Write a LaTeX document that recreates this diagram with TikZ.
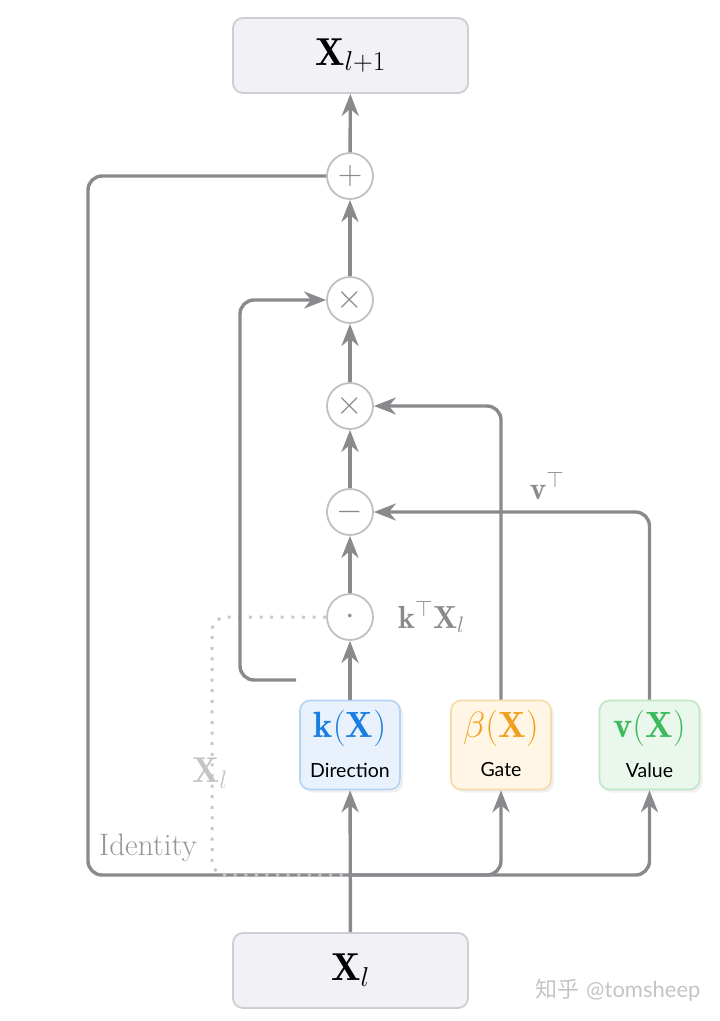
\RequirePackage{fix-cm}
\documentclass[tikz,border=0pt]{standalone}
\usepackage{amsmath}
\usepackage{fontspec}
\newfontfamily\lato{Lato}
\newfontfamily\cjk{Noto Sans CJK SC}
\usetikzlibrary{arrows.meta,shadows}
\definecolor{lgray}{RGB}{138,138,142}
\definecolor{cgray}{RGB}{192,192,196}
\definecolor{boxfill}{RGB}{241,241,246}
\definecolor{boxdraw}{RGB}{206,206,212}
\definecolor{kblue}{RGB}{26,125,225}
\definecolor{kfill}{RGB}{232,241,252}
\definecolor{kdraw}{RGB}{180,210,245}
\definecolor{borange}{RGB}{240,160,30}
\definecolor{bfill}{RGB}{255,246,230}
\definecolor{bdraw}{RGB}{248,218,170}
\definecolor{vgreen}{RGB}{60,185,90}
\definecolor{vfill}{RGB}{234,247,236}
\definecolor{vdraw}{RGB}{192,230,198}
\definecolor{dotgray}{RGB}{200,200,204}
\definecolor{lblgray}{RGB}{150,150,154}
\definecolor{xlgray}{RGB}{196,196,200}
\tikzset{
  bigbox/.style={draw=boxdraw, line width=1.8pt, fill=boxfill, rounded corners=10pt,
    minimum width=235pt, minimum height=75pt, font=\fontsize{39}{44}\selectfont},
  fbox/.style={line width=1.6pt, rounded corners=10pt, minimum width=100pt, minimum height=89pt,
    inner sep=0pt,
    drop shadow={opacity=0.12, shadow xshift=3pt, shadow yshift=-3pt}},
  mathlbl/.style={font=\fontsize{36.5}{40}\selectfont, inner sep=0pt},
  namelbl/.style={font=\lato\fontsize{19.5}{23}\selectfont, inner sep=0pt, text=black},
  opnode/.style={circle, draw=cgray, line width=1.8pt, fill=white, minimum size=46pt, inner sep=0pt,
    text=lgray, font=\fontsize{34}{38}\selectfont},
  conn/.style={draw=lgray, line width=3.4pt},
  arr/.style={conn, -{Stealth[length=22pt, width=17pt, inset=7pt]}},
  dotline/.style={draw=dotgray, line width=3pt, dash pattern=on 3pt off 7.6pt},
  lbl/.style={text=lgray, font=\fontsize{32}{36}\selectfont},
}
\begin{document}
\begin{tikzpicture}[x=1pt, y=-1pt]
\useasboundingbox (0,0) rectangle (720,1021);
% main nodes
\node[bigbox] (out) at (350.5,55.5) {$\mathbf{X}_{l+1}$};
\node[bigbox] (in) at (350.5,970.5) {$\mathbf{X}_{l}$};
\node[opnode] (add) at (350,176) {$+$};
\node[opnode] (mulA) at (350,300) {$\times$};
\node[opnode] (mulB) at (350,406) {$\times$};
\node[opnode] (sub) at (350,512) {$-$};
\node[opnode] (dot) at (350,617) {$\cdot$};
\node[fbox, draw=kdraw, fill=kfill] (k) at (350,745) {};
\node[fbox, draw=bdraw, fill=bfill] (beta) at (501,745) {};
\node[fbox, draw=vdraw, fill=vfill] (v) at (649.5,745) {};
\node[mathlbl, text=kblue] (kt) at (350,728) {$\mathbf{k}(\mathbf{X})$};
\node[namelbl] (kn) at (350,770) {Direction};
\node[mathlbl, text=borange] (bt) at (501,728) {$\beta(\mathbf{X})$};
\node[namelbl] (bn) at (501,770) {Gate};
\node[mathlbl, text=vgreen] (vt2) at (649.5,728) {$\mathbf{v}(\mathbf{X})$};
\node[namelbl] (vn) at (649.5,770) {Value};
% coordinates
\coordinate (j) at (350,875);
\coordinate (kl) at (296,680);
\coordinate (lc) at (240,300);
\coordinate (ic) at (88,176);
\coordinate (dc) at (212,875);
% identity path
\draw[conn, rounded corners=14pt] (j) -| (ic) -- (add.west);
% dotted path
\draw[dotline, rounded corners=14pt] (dot.west) -| (dc) -- (j);
% main vertical arrows
\draw[arr] (add) -- (out);
\draw[arr] (mulA) -- (add);
\draw[arr] (mulB) -- (mulA);
\draw[arr] (sub) -- (mulB);
\draw[arr] (dot) -- (sub);
\draw[arr] (k) -- (dot);
\draw[arr] (in) -- (k);
% side arrows
\draw[arr, rounded corners=14pt] (kl) -| (lc) -- (mulA.west);
\draw[arr, rounded corners=14pt] (beta.north) |- (mulB.east);
\draw[arr, rounded corners=14pt] (v.north) |- (sub.east);
\draw[arr, rounded corners=14pt] (j) -| (beta.south);
\draw[arr, rounded corners=14pt] (j) -| (v.south);
% labels
\node[lbl] (vt) at (547,486) {$\mathbf{v}^{\top}$};
\node[lbl, anchor=west, inner sep=0pt] (ktx) at (398,617) {$\mathbf{k}^{\top}\mathbf{X}_l$};
\node[text=xlgray, font=\fontsize{36}{40}\selectfont] (xl) at (210,773) {$\mathbf{X}_l$};
\node[text=lblgray, font=\fontsize{31}{36}\selectfont] (idt) at (148,848) {Identity};
\node[text=xlgray, font=\fontsize{22}{26}\selectfont] (wm) at (618,990) {{\cjk 知乎} {\lato @tomsheep}};
\end{tikzpicture}
\end{document}
